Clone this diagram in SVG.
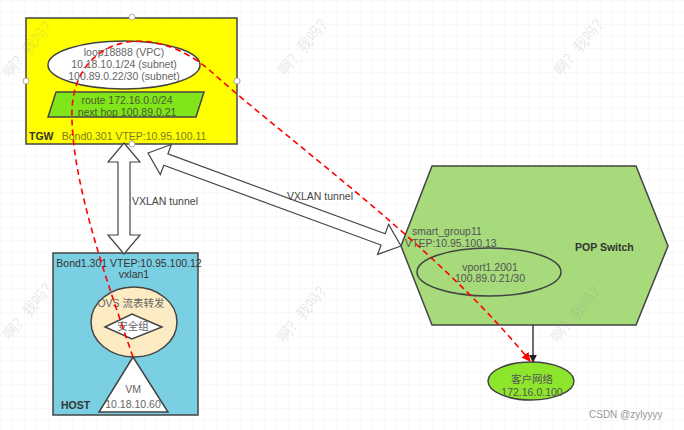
<svg xmlns="http://www.w3.org/2000/svg" width="684" height="430" viewBox="0 0 684 430">
<defs>
<style>
.t{font-family:"Liberation Sans","Noto Sans CJK SC",sans-serif;font-size:10.5px;text-anchor:middle}
.g{fill:#666}
.b{font-weight:bold;fill:#333;text-anchor:start}
.wm{font-family:"Noto Sans CJK SC",sans-serif;font-size:15px;fill:#999;fill-opacity:0.22;text-anchor:middle}
.sh{stroke:#444;stroke-width:1.5}
.blk{fill:#fff;stroke:#444;stroke-width:1.2}
.hd{fill:#fff;stroke:#999;stroke-width:0.8}
</style>
<pattern id="grid" width="12" height="12" patternUnits="userSpaceOnUse">
<path d="M12 0H0V12" fill="none" stroke="#ededed" stroke-width="0.7"/>
</pattern>
<marker id="ah" viewBox="0 0 10 10" refX="9" refY="5" markerWidth="8" markerHeight="8" orient="auto" markerUnits="userSpaceOnUse">
<path d="M0 0L10 5L0 10Z" fill="#222"/>
</marker>
<marker id="ahr" viewBox="0 0 10 10" refX="9" refY="5" markerWidth="9" markerHeight="9" orient="auto" markerUnits="userSpaceOnUse">
<path d="M0 0L10 5L0 10Z" fill="#f00"/>
</marker>
</defs>
<rect width="684" height="430" fill="#fff"/>
<rect width="684" height="430" fill="url(#grid)"/>

<g id="tgw">
<rect x="26" y="18" width="211" height="126" fill="#ffff00" class="sh"/>
<ellipse cx="124" cy="65" rx="76" ry="24" fill="#fff" class="sh"/>
<text class="t g" x="124" y="56">loop18888  (VPC)</text>
<text class="t g" x="124" y="68">10.18.10.1/24  (subnet)</text>
<text class="t g" x="124" y="80">100.89.0.22/30 (subnet)</text>
<polygon points="56,92 204,92 196,117 48,117" fill="#80e61a" class="sh"/>
<text class="t" x="127" y="104" fill="#4a5a30">route 172.16.0.0/24</text>
<text class="t" x="127" y="115.5" fill="#4a5a30">next hop 100.89.0.21</text>
<text class="t b" x="29" y="140">TGW</text>
<text class="t" x="134" y="140" fill="#7a7a20">Bond0.301 VTEP:10.95.100.11</text>
<circle cx="132" cy="17" r="3" class="hd"/>
<circle cx="26" cy="81" r="3" class="hd"/>
<circle cx="237" cy="81" r="3" class="hd"/>
<circle cx="132" cy="144" r="3" class="hd"/>
</g>

<g id="host">
<rect x="53" y="253" width="145" height="162" fill="#7bcfe2" class="sh"/>
<text class="t" x="129" y="267" fill="#333">Bond1.301 VTEP:10.95.100.12</text>
<text class="t" x="134" y="278" fill="#333">vxlan1</text>
<ellipse cx="134" cy="322" rx="43" ry="35" fill="#fdebc3" class="sh"/>
<text class="t g" x="131" y="307">OVS 流表转发</text>
<polygon points="105,327 132,314 162,327 132,339" fill="#fff" class="sh"/>
<text class="t g" x="133" y="330">安全组</text>
<polygon points="133,357 168,412 99,412" fill="#fff" class="sh"/>
<text class="t g" x="133" y="393">VM</text>
<text class="t g" x="133" y="408">10.18.10.60</text>
<text class="t b" x="61" y="409">HOST</text>
</g>

<g id="pop">
<polygon points="432,166 636,166 668,246 636,325 432,325 401,246" fill="#a6da7a" class="sh"/>
<text class="t" x="412" y="235" fill="#555" style="text-anchor:start">smart_group11</text>
<text class="t" x="405" y="247" fill="#555" style="text-anchor:start">VTEP:10.95.100.13</text>
<ellipse cx="489" cy="272" rx="72" ry="24" fill="none" class="sh"/>
<text class="t" x="490" y="271" fill="#555">vport1.2001</text>
<text class="t" x="490" y="282" fill="#555">100.89.0.21/30</text>
<text class="t b" x="575" y="251">POP Switch</text>
</g>

<g id="customer">
<ellipse cx="531" cy="381" rx="43" ry="19" fill="#8ee62c" class="sh"/>
<text class="t" x="532" y="383" fill="#555">客户网络</text>
<text class="t" x="532" y="396" fill="#555">172.16.0.100</text>
</g>

<g id="connectors">
<polygon class="blk" points="124,143 140,162 130,162 130,235 140,235 124,254 108,235 118,235 118,162 108,162"/>
<text class="t" x="132" y="205" fill="#444" style="text-anchor:start">VXLAN tunnel</text>
<polygon class="blk" transform="translate(148,153) rotate(20.18)" points="0,0 19,-16 19,-6 250.5,-6 250.5,-16 269.5,0 250.5,16 250.5,6 19,6 19,16"/>
<text class="t" x="287" y="200" fill="#444" style="text-anchor:start">VXLAN tunnel</text>
<line x1="533" y1="325" x2="533" y2="362" stroke="#222" stroke-width="1.3" marker-end="url(#ah)"/>
<path d="M133,357 C110,290 70,180 72,110 C74,40 150,15 215,75 C300,150 440,250 530,361" fill="none" stroke="#f00" stroke-width="1.6" stroke-dasharray="6,4" marker-end="url(#ahr)"/>
</g>

<text x="589" y="418" style="font-family:'Liberation Sans',sans-serif;font-size:10px;fill:#999">CSDN @zylyyyy</text>

<g id="watermarks">
<text class="wm" transform="translate(34,50) rotate(-50)">啊？我吗？</text>
<text class="wm" transform="translate(309,48) rotate(-50)">啊？我吗？</text>
<text class="wm" transform="translate(585,48) rotate(-50)">啊？我吗？</text>
<text class="wm" transform="translate(34,312) rotate(-50)">啊？我吗？</text>
<text class="wm" transform="translate(308,315) rotate(-50)">啊？我吗？</text>
<text class="wm" transform="translate(582,315) rotate(-50)">啊？我吗？</text>
</g>
</svg>
